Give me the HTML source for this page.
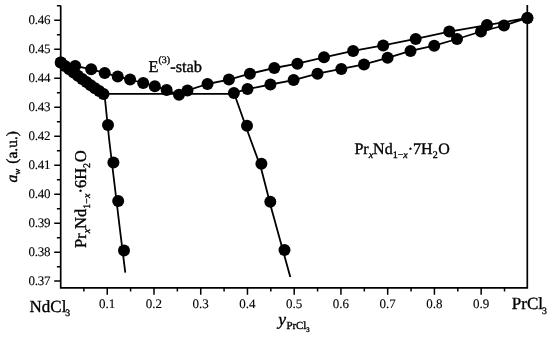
<!DOCTYPE html>
<html><head><meta charset="utf-8"><style>
html,body{margin:0;padding:0;background:#fff;}
svg{display:block;text-rendering:geometricPrecision;font-family:"Liberation Serif","DejaVu Serif",serif;}
</style></head><body>
<svg width="550" height="337" viewBox="0 0 550 337">
<rect width="550" height="337" fill="#fff"/>
<path d="M60.7,5.5 V287.8 H527.3 V5" fill="none" stroke="#000" stroke-width="1.7"/>
<path d="M60.7,281.12H54.20M60.7,252.14H54.20M60.7,223.16H54.20M60.7,194.18H54.20M60.7,165.20H54.20M60.7,136.22H54.20M60.7,107.24H54.20M60.7,78.26H54.20M60.7,49.28H54.20M60.7,20.30H54.20M60.7,266.63H56.90M60.7,237.65H56.90M60.7,208.67H56.90M60.7,179.69H56.90M60.7,150.71H56.90M60.7,121.73H56.90M60.7,92.75H56.90M60.7,63.77H56.90M60.7,34.79H56.90M60.7,5.81H56.90M107.24,287.8V294.80M153.98,287.8V294.80M200.72,287.8V294.80M247.46,287.8V294.80M294.20,287.8V294.80M340.94,287.8V294.80M387.68,287.8V294.80M434.42,287.8V294.80M481.16,287.8V294.80M83.87,287.8V291.60M130.61,287.8V291.60M177.35,287.8V291.60M224.09,287.8V291.60M270.83,287.8V291.60M317.57,287.8V291.60M364.31,287.8V291.60M411.05,287.8V291.60M457.79,287.8V291.60M504.53,287.8V291.60" fill="none" stroke="#000" stroke-width="1.5"/>
<g font-size="13" stroke="#000" stroke-width="0.12"><text x="50.1" y="284.72" text-anchor="end" letter-spacing="-0.3">0.37</text><text x="50.1" y="255.74" text-anchor="end" letter-spacing="-0.3">0.38</text><text x="50.1" y="226.76" text-anchor="end" letter-spacing="-0.3">0.39</text><text x="50.1" y="197.78" text-anchor="end" letter-spacing="-0.3">0.40</text><text x="50.1" y="168.80" text-anchor="end" letter-spacing="-0.3">0.41</text><text x="50.1" y="139.82" text-anchor="end" letter-spacing="-0.3">0.42</text><text x="50.1" y="110.84" text-anchor="end" letter-spacing="-0.3">0.43</text><text x="50.1" y="81.86" text-anchor="end" letter-spacing="-0.3">0.44</text><text x="50.1" y="52.88" text-anchor="end" letter-spacing="-0.3">0.45</text><text x="50.1" y="23.90" text-anchor="end" letter-spacing="-0.3">0.46</text><text x="107.24" y="308.3" text-anchor="middle">0.1</text><text x="153.98" y="308.3" text-anchor="middle">0.2</text><text x="200.72" y="308.3" text-anchor="middle">0.3</text><text x="247.46" y="308.3" text-anchor="middle">0.4</text><text x="294.20" y="308.3" text-anchor="middle">0.5</text><text x="340.94" y="308.3" text-anchor="middle">0.6</text><text x="387.68" y="308.3" text-anchor="middle">0.7</text><text x="434.42" y="308.3" text-anchor="middle">0.8</text><text x="481.16" y="308.3" text-anchor="middle">0.9</text></g>
<path d="M60.8,62.6 L75.2,65.9 L91.2,69.3 L104.7,72.9 L117.7,76.6 L130.1,79.5 L143.2,83.0 L154.8,86.2 L166.6,90.0 L179.0,94.7 L187.5,90.4 L207.5,84.0 L228.9,79.6 L249.9,73.7 L274.3,68.0 L297.4,63.7 L324.0,57.3 L353.1,50.9 L383.2,45.4 L415.7,38.9 L449.3,31.6 L487.0,25.1 L527.4,18.0 M233.9,92.9 L247.5,89.1 L270.4,84.5 L293.6,80.1 L317.5,73.7 L341.3,68.9 L364.0,64.4 L387.6,57.8 L410.5,50.9 L434.2,45.7 L457.0,39.0 L481.0,31.5 L504.0,25.5 L527.4,18.0 M60.8,62.6 L65.1,66.0 L69.3,69.3 L73.6,72.6 L77.9,75.8 L82.2,79.0 L86.4,82.1 L90.7,85.2 L95.0,88.2 L99.2,91.1 L103.5,94.0 M102.5,93.9 H234 M104.0,94.0 L105.1,100.0 L109.2,140.0 L120.0,230.0 L125.3,272.7 M234.0,93.0 L250.7,140.0 L261.0,168.0 L271.8,210.0 L290.3,277.1" fill="none" stroke="#000" stroke-width="1.8" stroke-linejoin="round"/>
<g fill="#000"><circle cx="60.8" cy="62.6" r="6.0"/><circle cx="75.2" cy="65.9" r="6.0"/><circle cx="91.2" cy="69.3" r="6.0"/><circle cx="104.7" cy="72.9" r="6.0"/><circle cx="117.7" cy="76.6" r="6.0"/><circle cx="130.1" cy="79.5" r="6.0"/><circle cx="143.2" cy="83.0" r="6.0"/><circle cx="154.8" cy="86.2" r="6.0"/><circle cx="166.6" cy="90.0" r="6.0"/><circle cx="179.0" cy="94.7" r="6.0"/><circle cx="187.5" cy="90.4" r="6.0"/><circle cx="207.5" cy="84.0" r="6.0"/><circle cx="228.9" cy="79.6" r="6.0"/><circle cx="249.9" cy="73.7" r="6.0"/><circle cx="274.3" cy="68.0" r="6.0"/><circle cx="297.4" cy="63.7" r="6.0"/><circle cx="324.0" cy="57.3" r="6.0"/><circle cx="353.1" cy="50.9" r="6.0"/><circle cx="383.2" cy="45.4" r="6.0"/><circle cx="415.7" cy="38.9" r="6.0"/><circle cx="449.3" cy="31.6" r="6.0"/><circle cx="487.0" cy="25.1" r="6.0"/><circle cx="527.4" cy="18.0" r="6.0"/><circle cx="233.9" cy="92.9" r="6.0"/><circle cx="247.5" cy="89.1" r="6.0"/><circle cx="270.4" cy="84.5" r="6.0"/><circle cx="293.6" cy="80.1" r="6.0"/><circle cx="317.5" cy="73.7" r="6.0"/><circle cx="341.3" cy="68.9" r="6.0"/><circle cx="364.0" cy="64.4" r="6.0"/><circle cx="387.6" cy="57.8" r="6.0"/><circle cx="410.5" cy="50.9" r="6.0"/><circle cx="434.2" cy="45.7" r="6.0"/><circle cx="457.0" cy="39.0" r="6.0"/><circle cx="481.0" cy="31.5" r="6.0"/><circle cx="504.0" cy="25.5" r="6.0"/><circle cx="527.4" cy="18.0" r="6.0"/><circle cx="60.8" cy="62.6" r="6.0"/><circle cx="65.1" cy="66.0" r="6.0"/><circle cx="69.3" cy="69.3" r="6.0"/><circle cx="73.6" cy="72.6" r="6.0"/><circle cx="77.9" cy="75.8" r="6.0"/><circle cx="82.2" cy="79.0" r="6.0"/><circle cx="86.4" cy="82.1" r="6.0"/><circle cx="90.7" cy="85.2" r="6.0"/><circle cx="95.0" cy="88.2" r="6.0"/><circle cx="99.2" cy="91.1" r="6.0"/><circle cx="103.5" cy="94.0" r="6.0"/><circle cx="108.0" cy="125.0" r="6.0"/><circle cx="113.4" cy="162.5" r="6.0"/><circle cx="118.2" cy="200.9" r="6.0"/><circle cx="124.0" cy="250.5" r="6.0"/><circle cx="247.0" cy="125.7" r="6.0"/><circle cx="261.4" cy="163.8" r="6.0"/><circle cx="270.3" cy="201.8" r="6.0"/><circle cx="284.5" cy="250.0" r="6.0"/></g>
<g stroke="#000" stroke-width="0.35">
<text x="148.5" y="71.6" font-size="16.4">E<tspan font-size="10" dy="-8.3">(3)</tspan><tspan dy="8.3">-stab</tspan></text>
<text x="354.4" y="154" font-size="16">Pr<tspan font-size="10" font-style="italic" dy="4">x</tspan><tspan dy="-4">Nd</tspan><tspan font-size="10" dy="4">1−<tspan font-style="italic">x</tspan></tspan><tspan dy="-4">·7H</tspan><tspan font-size="10" dy="4">2</tspan><tspan dy="-4" dx="0.6">O</tspan></text>
<text transform="translate(86,248.0) rotate(-90)" x="0" y="0" font-size="16.5">Pr<tspan font-size="10" font-style="italic" dy="4">x</tspan><tspan dy="-4">Nd</tspan><tspan font-size="10" dy="4">1−<tspan font-style="italic">x</tspan></tspan><tspan dy="-4">·6H</tspan><tspan font-size="10" dy="4">2</tspan><tspan dy="-4" dx="0.6">O</tspan></text>
<text transform="translate(17.4,182.4) rotate(-90)" x="0" y="0" font-size="15.5"><tspan font-style="italic">a</tspan><tspan font-size="8.6" dy="2.6">w</tspan><tspan dy="-2.6" dx="0.8"> (a.u.)</tspan></text>
<text x="29.6" y="311.8" font-size="17">NdCl<tspan font-size="9.8" dx="-1.1" dy="4.3">3</tspan></text>
<text x="511.8" y="309.3" font-size="17">PrCl<tspan font-size="9.8" dx="-1.1" dy="4.3">3</tspan></text>
<text x="278.3" y="324.7" font-size="17.5"><tspan font-style="italic">y</tspan><tspan font-size="10.8" dy="4.2" dx="0.3">PrCl</tspan><tspan font-size="6.8" dy="2.6">3</tspan></text>
</g>
</svg>
</body></html>
